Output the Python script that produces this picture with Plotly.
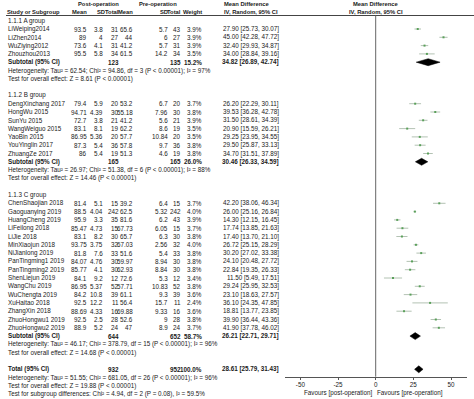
import plotly.graph_objects as go

# ------------------------- data -------------------------
group_titles = ["1.1.1 A group", "1.1.2 B group", "1.1.3 C group"]
group_sizes = [4, 7, 16]

study_names = [
    "LiWeiping2014", "LiZhen2014", "WuZiying2012", "Zhouzhou2013",
    "DengXinchang 2017", "HongWu 2015", "SunYu 2015", "WangWeiguo 2015", "YaoBin 2015",
    "YouYinglin 2017", "ZhuangZe 2017",
    "ChenShaojian 2018", "Gaoguanying 2019", "HuangCheng 2019", "LiFeilong 2018", "LiJie 2018",
    "MinXiaojun 2018", "NiJianlong 2019", "PanTingming1 2019", "PanTingming2 2019", "ShenLiejun 2019",
    "WangChu 2019", "WuChengta 2019", "XuHaitao 2018", "ZhangXin 2018", "ZhuoHongwu1 2019",
    "ZhuoHongwu2 2019",
]
post_mean = [93.5, 89, 73.6, 95.5,
             79.4, 94.71, 72.7, 83.1, 86.95, 87.3, 86,
             81.4, 88.5, 95.9, 85.47, 83.1, 93.75, 81.8, 84.07, 85.77, 84.1, 86.95, 84.2, 92.5, 88.69, 92.5, 88.9]
post_sd = [3.8, 4, 4.1, 5.8,
           5.9, 4.39, 3.8, 8.1, 5.36, 5.4, 5.4,
           5.1, 4.04, 3.3, 4.73, 8.2, 3.75, 7.6, 4.76, 4.1, 9.2, 5.37, 10.8, 12.2, 4.33, 2.5, 5.2]
post_n = [31, 27, 31, 34,
          20, 30, 21, 19, 20, 36, 19,
          15, 242, 35, 15, 30, 32, 33, 30, 30, 12, 52, 39, 11, 16, 28, 24]
pre_mean = [65.6, 44, 41.2, 61.5,
            53.2, 55.18, 41.2, 62.2, 57.7, 57.8, 51.3,
            39.2, 62.5, 81.6, 67.73, 65.7, 67.03, 51.6, 59.97, 62.93, 72.6, 57.71, 61.1, 56.4, 69.88, 52.6, 47]
pre_sd = [5.7, 6, 5.7, 14.2,
          6.7, 7.96, 5.6, 8.6, 10.84, 9.7, 4.6,
          6.4, 5.32, 6.2, 6.05, 6.3, 2.56, 5.4, 8.94, 8.84, 5.3, 10.83, 9.3, 15.7, 9.33, 9, 8.9]
pre_n = [43, 27, 31, 34,
         20, 30, 21, 19, 20, 36, 19,
         15, 242, 43, 15, 30, 32, 33, 30, 30, 12, 52, 39, 11, 16, 28, 24]
weight = [3.9, 3.9, 3.9, 3.5,
          3.7, 3.8, 3.9, 3.5, 3.5, 3.8, 3.8,
          3.7, 4.0, 3.9, 3.7, 3.8, 4.0, 3.8, 3.8, 3.8, 3.4, 3.8, 3.6, 2.4, 3.6, 3.8, 3.7]
md = [27.90, 45.00, 32.40, 34.00,
      26.20, 39.53, 31.50, 20.90, 29.25, 29.50, 34.70,
      42.20, 26.00, 14.30, 17.74, 17.40, 26.72, 30.20, 24.10, 22.84, 11.50, 29.24, 23.10, 36.10, 18.81, 39.90, 41.90]
ci_low = [25.73, 42.28, 29.93, 28.84,
          22.29, 36.28, 28.61, 15.59, 23.95, 25.87, 31.51,
          38.06, 25.16, 12.15, 13.85, 13.70, 25.15, 27.02, 20.48, 19.35, 5.49, 25.95, 18.63, 24.35, 13.77, 36.44, 37.78]
ci_high = [30.07, 47.72, 34.87, 39.16,
           30.11, 42.78, 34.39, 26.21, 34.55, 33.13, 37.89,
           46.34, 26.84, 16.45, 21.63, 21.10, 28.29, 33.38, 27.72, 26.33, 17.51, 32.53, 27.57, 47.85, 23.85, 43.36, 46.02]

sub_post_n = [123, 165, 644]
sub_pre_n = [135, 165, 652]
sub_weight = [15.2, 26.0, 58.7]
sub_md = [34.82, 30.46, 26.21]
sub_low = [26.89, 26.33, 22.71]
sub_high = [42.74, 34.59, 29.71]
sub_tau2 = [62.54, 26.97, 46.17]
sub_chi2 = [94.86, 51.38, 378.79]
sub_df = [3, 6, 15]
sub_i2 = [97, 88, 96]
sub_z = [8.61, 14.46, 14.68]

total_post_n = 932
total_pre_n = 952
total_weight = 100.0
total_md = 28.61
total_low = 25.79
total_high = 31.43
total_tau2 = 51.55
total_chi2 = 681.05
total_df = 26
total_i2 = 96
total_z = 19.88
subgroup_chi2 = 4.94
subgroup_df = 2
subgroup_p = 0.08
subgroup_i2 = 59.5

tick_values = [-50, -25, 0, 25, 50]
tick_labels = ["-50", "-25", "0", "25", "50"]

# ------------------------- layout constants -------------------------
W, H = 474, 399
ROW0, PITCH = 20.7, 8.3
FS = 6.3
FS_HEAD = 5.8
FONT = "Liberation Sans, Arial, sans-serif"
TXT = "#1a1a1a"
AXIS_PX = 376.7
UNDERLINE_PX = 15.5


def row_of(px):
    return (px - ROW0) / PITCH


X_NAME = 7
X_POST_MEAN, X_POST_SD, X_POST_N = 87.8, 104, 119.5
X_PRE_MEAN, X_PRE_SD, X_PRE_N = 133.5, 168.5, 182.2
X_WEIGHT = 202.8
X_MD = 279.8

annotations = []


def txt(xpx, row, s, anchor="right", bold=False, size=FS):
    if bold:
        s = "<b>" + s + "</b>"
    annotations.append(dict(
        x=xpx, y=row, xref="x2", yref="y", text=s, showarrow=False,
        xanchor=anchor, yanchor="middle", borderpad=0,
        font=dict(family=FONT, size=size, color=TXT)))


def g(v):
    return f"{v:g}"


# headers
txt(98.5, -2, "Post-operation", "center", True, FS_HEAD)
txt(158, -2, "Pre-operation", "center", True, FS_HEAD)
txt(246.5, -2, "Mean Difference", "center", True, FS_HEAD)
txt(376, -2, "Mean Difference", "center", True, FS_HEAD)
txt(6, -1, "Study or Subgroup", "left", True, FS_HEAD)
txt(X_POST_MEAN + 0.5, -1, "Mean", "right", True, FS_HEAD)
txt(X_POST_SD + 1.5, -1, "SD", "right", True, FS_HEAD)
txt(X_POST_N, -1, "Total", "right", True, FS_HEAD)
txt(X_PRE_MEAN, -1, "Mean", "right", True, FS_HEAD)
txt(X_PRE_SD, -1, "SD", "right", True, FS_HEAD)
txt(X_PRE_N, -1, "Total", "right", True, FS_HEAD)
txt(X_WEIGHT, -1, "Weight", "right", True, FS_HEAD)
txt(223, -1, "IV, Random, 95% CI", "left", True, FS_HEAD)
txt(376, -1, "IV, Random, 95% CI", "center", True, FS_HEAD)

ci_x, ci_y, pt_x, pt_y = [], [], [], []
diamonds = []

row = 0
idx = 0
for gi, title in enumerate(group_titles):
    txt(X_NAME, row, title, "left")
    row += 1
    for _ in range(group_sizes[gi]):
        i = idx
        txt(X_NAME, row, study_names[i], "left")
        txt(X_POST_MEAN, row, g(post_mean[i]))
        txt(X_POST_SD, row, g(post_sd[i]))
        txt(X_POST_N, row, g(post_n[i]))
        txt(X_PRE_MEAN, row, g(pre_mean[i]))
        txt(X_PRE_SD, row, g(pre_sd[i]))
        txt(X_PRE_N, row, g(pre_n[i]))
        txt(X_WEIGHT, row, f"{weight[i]:.1f}%")
        txt(X_MD, row, f"{md[i]:.2f} [{ci_low[i]:.2f}, {ci_high[i]:.2f}]")
        ci_x += [ci_low[i], ci_high[i], None]
        ci_y += [row, row, None]
        pt_x.append(md[i])
        pt_y.append(row)
        idx += 1
        row += 1
    txt(X_NAME, row, "Subtotal (95% CI)", "left", True)
    txt(X_POST_N, row, g(sub_post_n[gi]), "right", True)
    txt(X_PRE_N, row, g(sub_pre_n[gi]), "right", True)
    txt(X_WEIGHT, row, f"{sub_weight[gi]:.1f}%", "right", True)
    txt(X_MD + 0.5, row, f"{sub_md[gi]:.2f} [{sub_low[gi]:.2f}, {sub_high[gi]:.2f}]", "right", True)
    diamonds.append((sub_low[gi], sub_md[gi], sub_high[gi], row))
    txt(X_NAME, row + 1, f"Heterogeneity: Tau² = {sub_tau2[gi]:.2f}; Chi² = {sub_chi2[gi]:.2f}, "
        f"df = {sub_df[gi]} (P &lt; 0.00001); I² = {sub_i2[gi]}%", "left")
    txt(X_NAME, row + 2, f"Test for overall effect: Z = {sub_z[gi]:.2f} (P &lt; 0.00001)", "left")
    row += 4

txt(X_NAME, row, "Total (95% CI)", "left", True)
txt(X_POST_N, row, g(total_post_n), "right", True)
txt(X_PRE_N, row, g(total_pre_n), "right", True)
txt(X_WEIGHT, row, f"{total_weight:.1f}%", "right", True)
txt(X_MD + 0.5, row, f"{total_md:.2f} [{total_low:.2f}, {total_high:.2f}]", "right", True)
diamonds.append((total_low, total_md, total_high, row))
txt(X_NAME, row + 1, f"Heterogeneity: Tau² = {total_tau2:.2f}; Chi² = {total_chi2:.2f}, "
    f"df = {total_df} (P &lt; 0.00001); I² = {total_i2}%", "left")
txt(X_NAME, row + 2, f"Test for overall effect: Z = {total_z:.2f} (P &lt; 0.00001)", "left")
txt(X_NAME, row + 3, f"Test for subgroup differences: Chi² = {subgroup_chi2:.2f}, df = {subgroup_df} "
    f"(P = {subgroup_p:.2f}), I² = {subgroup_i2:.1f}%", "left")

# favours labels
txt(338, row_of(392.8), "Favours [post-operation]", "center")
txt(410, row_of(392.8), "Favours [pre-operation]", "center")

fig = go.Figure()

fig.add_trace(go.Scatter(x=ci_x, y=ci_y, mode="lines", xaxis="x", yaxis="y",
                         line=dict(color="#9fb39f", width=0.8), hoverinfo="skip",
                         showlegend=False, cliponaxis=False))
fig.add_trace(go.Scatter(x=pt_x, y=pt_y, mode="markers", xaxis="x", yaxis="y",
                         marker=dict(symbol="square", size=2, color="#5aa05a", line=dict(width=0)),
                         showlegend=False, cliponaxis=False))

HALF = 0.42
for lo, m, hi, r in diamonds:
    fig.add_trace(go.Scatter(x=[lo, m, hi, m, lo], y=[r, r - HALF, r, r + HALF, r],
                             mode="lines", fill="toself", fillcolor="black",
                             line=dict(color="black", width=0.5), xaxis="x", yaxis="y",
                             hoverinfo="skip", showlegend=False))

# invisible trace to activate pixel axis
fig.add_trace(go.Scatter(x=[0, W], y=[0, 0], mode="markers", marker=dict(opacity=0),
                         xaxis="x2", yaxis="y", showlegend=False, hoverinfo="skip"))

fig.update_layout(
    width=W, height=H,
    margin=dict(l=0, r=0, t=0, b=0),
    paper_bgcolor="white", plot_bgcolor="rgba(0,0,0,0)",
    showlegend=False,
    xaxis=dict(domain=[285 / W, 467 / W], range=[-60.2, 60.6], anchor="free",
               position=1 - AXIS_PX / H, showline=True, linecolor="#555", linewidth=1,
               ticks="outside", ticklen=2, tickwidth=1, tickcolor="#555",
               tickvals=tick_values, ticktext=tick_labels,
               tickfont=dict(family=FONT, size=FS, color=TXT),
               showgrid=False, zeroline=False, fixedrange=True),
    xaxis2=dict(domain=[0, 1], range=[0, W], visible=False, anchor="y", fixedrange=True),
    yaxis=dict(domain=[0, 1], range=[row_of(H), row_of(0)], visible=False, fixedrange=True),
    annotations=annotations,
    shapes=[
        dict(type="line", xref="x2", yref="y", x0=6, x1=W, y0=row_of(UNDERLINE_PX),
             y1=row_of(UNDERLINE_PX), line=dict(color="#444", width=1)),
        dict(type="line", xref="x", yref="y", x0=0, x1=0, y0=row_of(UNDERLINE_PX),
             y1=row_of(AXIS_PX), line=dict(color="#666", width=1)),
    ],
)

fig.write_html(
    "out.html",
    config={"displayModeBar": False, "staticPlot": True},
    post_script="document.body.style.margin='0';document.body.style.overflow='hidden';",
)
